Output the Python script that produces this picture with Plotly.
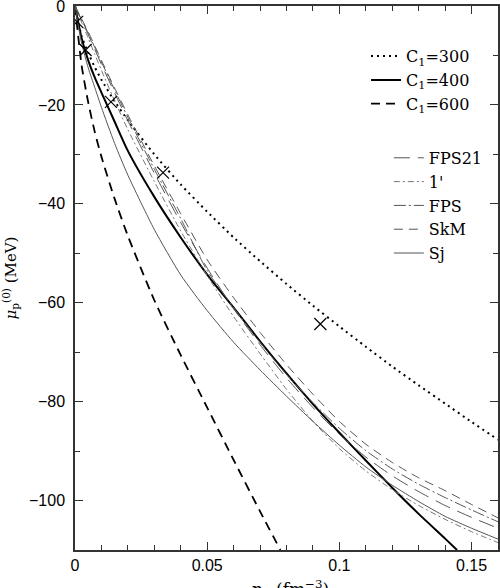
import plotly.graph_objects as go

# density grid n_n (fm^-3) used for the readings
n = [0, 0.0025, 0.005, 0.0075, 0.01, 0.015, 0.02, 0.03, 0.04, 0.05, 0.06,
     0.07, 0.08, 0.09, 0.10, 0.11, 0.12, 0.13, 0.14, 0.15, 0.16]

# mu_p^(0) (MeV)
c300 = [0, -6.1, -9.5, -12.4, -14.9, -19.3, -23.1, -30.0, -36.1, -41.6, -46.8,
        -51.6, -56.2, -60.6, -64.8, -68.9, -72.9, -76.7, -80.4, -84.1, -87.7]
n400 = [0, 0.0025, 0.005, 0.0075, 0.01, 0.015, 0.02, 0.03, 0.04, 0.05, 0.06,
        0.07, 0.08, 0.09, 0.10, 0.11, 0.12, 0.13, 0.14, 0.1445]
c400 = [0, -6.5, -11.0, -14.5, -17.5, -23.4, -29.3, -38.6, -46.8, -54.3, -61.0,
        -67.8, -74.3, -80.5, -86.3, -91.9, -97.4, -102.7, -107.7, -110.0]
n600 = [0, 0.0025, 0.005, 0.0075, 0.01, 0.015, 0.02, 0.03, 0.04, 0.05, 0.06,
        0.07, 0.0777]
c600 = [0, -12.0, -19.5, -25.5, -30.5, -39.0, -46.5, -59.5, -70.6, -81.2, -91.8,
        -102.2, -110.0]

fps21 = [0, -2.9, -5.8, -8.8, -11.8, -17.6, -23.2, -33.8, -43.8, -53.0, -61.2,
         -68.5, -75.2, -81.2, -86.6, -91.2, -95.0, -98.2, -101.0, -103.4, -105.6]
one_p = [0, -3.3, -6.5, -9.8, -13.0, -19.2, -25.0, -35.5, -45.5, -54.5, -62.8,
         -70.3, -77.5, -84.0, -89.5, -94.0, -97.8, -101.0, -103.8, -106.3, -108.5]
fps = [0, -2.8, -5.5, -8.4, -11.3, -17.0, -22.5, -33.0, -43.0, -53.5, -61.0,
       -68.0, -74.5, -80.2, -85.4, -89.9, -93.6, -96.7, -99.4, -101.9, -104.3]
skm = [0, -2.6, -5.2, -8.1, -11.0, -16.6, -22.0, -32.3, -42.0, -51.3, -59.0,
       -66.0, -72.5, -78.5, -84.0, -88.6, -92.3, -95.4, -98.0, -100.8, -103.5]
sj = [0, -7.5, -12.5, -16.5, -20.5, -27.8, -34.2, -45.2, -54.4, -61.6, -68.0,
      -73.6, -78.9, -84.0, -88.8, -93.2, -96.9, -100.2, -103.2, -105.6, -107.8]

cross_n = [0.0008, 0.0040, 0.0136, 0.0333, 0.0928]
cross_mu = [-3.2, -8.9, -19.4, -33.7, -64.3]

x_ticks = [0, 0.05, 0.1, 0.15]
x_labels = ['0', '0.05', '0.1', '0.15']
y_ticks = [0, -20, -40, -60, -80, -100]
y_labels = ['0', '−20', '−40', '−60', '−80', '−100']

fig = go.Figure()

def add(x, y, name, color, width, dash, legend):
    fig.add_trace(go.Scatter(
        x=x, y=y, mode='lines', name=name, legend=legend,
        line=dict(color=color, width=width, dash=dash, shape='spline', smoothing=0.6)))

add(n, c300, 'C<sub>1</sub>=300', 'black', 2, '2px,4px', 'legend')
add(n400, c400, 'C<sub>1</sub>=400', 'black', 2, 'solid', 'legend')
add(n600, c600, 'C<sub>1</sub>=600', 'black', 1.8, '9px,6px', 'legend')

gray = '#555555'
add(n, fps21, 'FPS21', gray, 1, '16px,8px', 'legend2')
add(n, one_p, "1'", '#777777', 1, '6px,3px,2px,3px', 'legend2')
add(n, fps, 'FPS', gray, 1, '12px,3px,2px,3px', 'legend2')
add(n, skm, 'SkM', gray, 1, '9px,6px', 'legend2')
add(n, sj, 'Sj', gray, 1, 'solid', 'legend2')

fig.add_trace(go.Scatter(
    x=cross_n, y=cross_mu, mode='markers', showlegend=False,
    marker=dict(symbol='x-thin', size=12, line=dict(color='black', width=1.2))))

leg_font = dict(family='DejaVu Serif', size=16, color='black')

fig.update_layout(
    width=500, height=588,
    margin=dict(l=75, r=2, t=6, b=38),
    plot_bgcolor='white', paper_bgcolor='white',
    font=dict(family='Liberation Sans', size=16, color='black'),
    legend=dict(x=0.688, y=0.939, xanchor='left', yanchor='top',
                bgcolor='rgba(0,0,0,0)', font=leg_font, tracegroupgap=0),
    legend2=dict(x=0.742, y=0.752, xanchor='left', yanchor='top',
                 bgcolor='rgba(0,0,0,0)', font=leg_font, tracegroupgap=0),
    xaxis=dict(
        range=[0, 0.16], tickvals=x_ticks, ticktext=x_labels, automargin=False,
        ticks='inside', ticklen=8, tickwidth=1.2, tickcolor='#333',
        ticklabeloverflow='allow',
        minor=dict(dtick=0.01, ticks='inside', ticklen=5, tickcolor='#333'),
        showline=True, linecolor='#333', linewidth=1.5, mirror='ticks',
        showgrid=False, zeroline=False),
    yaxis=dict(
        range=[-110, 0], tickvals=y_ticks, ticktext=y_labels, automargin=False,
        ticks='inside', ticklen=8, tickwidth=1.2, tickcolor='#333',
        ticklabelstandoff=5, ticklabeloverflow='allow',
        minor=dict(dtick=10, ticks='inside', ticklen=5, tickcolor='#333'),
        showline=True, linecolor='#333', linewidth=1.5, mirror='ticks',
        showgrid=False, zeroline=False,
        title=dict(text='<i>μ</i><sub>p</sub><sup>(0)</sup> (MeV)', standoff=12,
                   font=dict(family='DejaVu Serif', size=15))),
)

# x title sits low, partly below the page edge as in the original
fig.add_annotation(text='n<sub>n</sub> (fm<sup>−3</sup>)', xref='paper', yref='paper',
                   x=0.51, y=-0.046, xanchor='center', yanchor='top', showarrow=False,
                   font=dict(family='DejaVu Serif', size=17))

# the page body has a default 8px margin; drop it so the figure sits at the corner
fig.write_html('out.html', config={'displayModeBar': False},
               post_script="document.body.style.margin='0px';")
